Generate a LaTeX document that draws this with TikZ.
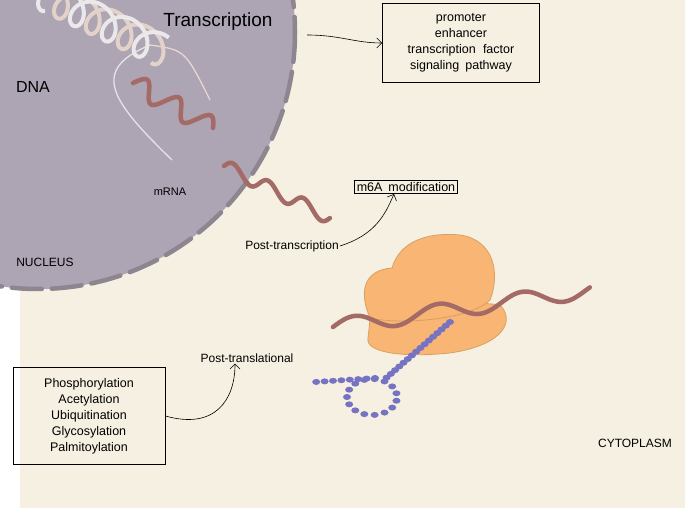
\documentclass[tikz,border=0pt]{standalone}
\usepackage{fontspec}
\setmainfont{Liberation Sans}
\usetikzlibrary{arrows.meta}
\definecolor{cream}{HTML}{F5F0E1}
\definecolor{nuc}{HTML}{ADA4B4}
\definecolor{nucb}{HTML}{8D8590}
\definecolor{rna}{HTML}{A46A66}
\definecolor{ribo}{HTML}{F8B574}
\definecolor{ribob}{HTML}{D9A060}
\definecolor{prot}{HTML}{7673C2}
\tikzset{lbl/.style={font=\fontsize{12}{14}\selectfont,inner sep=1pt},
 bx/.style={draw,thick,align=center,font=\fontsize{12.5}{16}\selectfont,inner sep=3pt},
 arr/.style={-{Straight Barb[length=5pt]},semithick},
 rnaline/.style={rna,line width=4.5pt,line cap=round}}
\begin{document}
\begin{tikzpicture}[x=1pt,y=-1pt]
\useasboundingbox (0,0) rectangle (685,510);
\fill[white] (0,0) rectangle (685,510);
\fill[cream] (20,0) rectangle (685,508);
\begin{scope}
\clip (0,0) rectangle (685,510);
\fill[nuc] (38,32) circle (257);
\draw[nucb,line width=4.5pt,line cap=round,dash pattern=on 30pt off 10pt] (38,32) circle (257);
% DNA helix
\draw[orange!25!nuc!40!white,line width=1.3pt] (150,45) .. controls (185,50) .. (210,100);
\draw[white!70!nuc,line width=1.3pt] (150,45) .. controls (90,70) and (110,100) .. (172,160);
\draw[orange!25!nuc!45!white,line width=4pt] plot[domain=0:1,samples=80,smooth] ({45+115*\x+14*sin(1300*\x)},{-5+55*\x-16*cos(1300*\x)});
\draw[white!75!nuc,line width=4pt] plot[domain=0:1,samples=80,smooth] ({45+115*\x-14*sin(1300*\x)},{-5+55*\x+16*cos(1300*\x)});
\end{scope}
\draw[rnaline] plot[domain=0:1,samples=50,smooth] ({133+80*\x+6*sin(900*\x)},{83+45*\x-8*sin(900*\x)});
\draw[rnaline] plot[domain=0:1,samples=60,smooth] ({224+106*\x},{166+52*\x-7*sin(1080*\x)});
% ribosome small subunit
\draw[ribob,thick,fill=ribo] (370,320) .. controls (380,305) and (470,300) .. (500,305)
 .. controls (515,320) and (505,345) .. (450,353) .. controls (400,358) and (365,352) .. (368,338) -- cycle;
% large subunit
\draw[ribob,thick,fill=ribo] (370,318) .. controls (358,290) and (365,270) .. (392,268)
 .. controls (400,240) and (430,232) .. (460,235) .. controls (495,240) and (500,275) .. (490,300)
 .. controls (470,320) and (400,325) .. (370,318) -- cycle;
\draw[rnaline] plot[domain=0:1,samples=80,smooth] ({333+257*\x},{327-37*\x-8*sin(1100*\x)});
% protein
\foreach \t in {0,0.065,...,1}{\fill[prot] ({450-65*\t},{322+57*\t}) ellipse (4 and 3);}
\foreach \a in {0,24,...,359}{\fill[prot] ({372+25*cos(\a+60)},{397+18*sin(\a+60)}) ellipse (4 and 3);}
\foreach \t in {0,0.14,...,1}{\fill[prot] ({375-60*\t},{378+4*\t}) ellipse (4 and 3);}
% texts
\node[font=\fontsize{19}{22}\selectfont] (tr) at (218,22) {Transcription};
\node[font=\fontsize{16}{18}\selectfont] (dna) at (33,87) {DNA};
\node[lbl,font=\fontsize{11}{13}\selectfont] (mrna) at (170,192) {mRNA};
\node[lbl] (nucl) at (45,262) {NUCLEUS};
\node[lbl] (cyto) at (635,443) {CYTOPLASM};
\node[bx,minimum width=157pt,minimum height=79pt] (b1) at (461,43) {promoter\\enhancer\\transcription\hspace{0.3em} factor\\signaling\hspace{0.2em} pathway};
\node[bx,inner sep=2pt] (b2) at (406,187) {m6A\hspace{0.2em} modification};
\node[bx,minimum width=152pt,minimum height=97pt] (b3) at (89,416) {Phosphorylation\\Acetylation\\Ubiquitination\\Glycosylation\\Palmitoylation};
\node[lbl] (pt) at (292,246) {Post-transcription};
\node[lbl] (pl) at (247,358) {Post-translational};
\coordinate (a1) at (307,35);
\draw[arr] (a1) .. controls (340,35) and (355,43) .. (b1.west);
\draw[arr] (pt.east) .. controls (375,235) and (385,215) .. ([xshift=-12pt]b2.south);
\draw[arr] (b3.east) .. controls (215,430) and (235,400) .. ([xshift=-12pt]pl.south);
\end{tikzpicture}
\end{document}
